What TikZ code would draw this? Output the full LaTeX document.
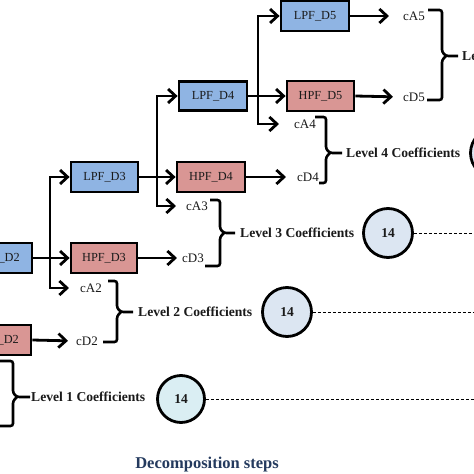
\documentclass[tikz,border=0pt]{standalone}
\usepackage{fontspec}
\setmainfont{Liberation Serif}
\usetikzlibrary{arrows.meta}
\definecolor{lpf}{HTML}{8FB4E3}
\definecolor{hpf}{HTML}{D99694}
\definecolor{circA}{HTML}{DCE6F2}
\definecolor{circB}{HTML}{DAEEF3}
\definecolor{navy}{HTML}{243A5E}
\definecolor{ink}{HTML}{1A1A1A}
\begin{document}
\begin{tikzpicture}[x=1pt,y=-1pt,
  filt/.style={draw=black, line width=2.8pt, minimum width=68pt, minimum height=30pt, inner sep=0pt, text=ink, font=\fontsize{12.3}{14}\selectfont},
  lpfbox/.style={filt, fill=lpf},
  hpfbox/.style={filt, fill=hpf},
  coef/.style={inner sep=1pt, text=ink, font=\fontsize{13}{14}\selectfont},
  conn/.style={line width=2.8pt, -{Straight Barb[length=7.5pt,width=14pt]}},
  brace/.style={line width=2.6pt, rounded corners=2.5pt},
  lvl/.style={anchor=west, inner sep=0pt, text=ink, font=\bfseries\fontsize{13.6}{15}\selectfont},
  circ/.style={circle, draw=black, line width=2.8pt, minimum size=48pt, inner sep=0pt, text=ink, font=\bfseries\fontsize{13.5}{15}\selectfont},
  dline/.style={line width=1pt, dash pattern=on 3pt off 2pt}]
\useasboundingbox (0,0) rectangle (474,474);
\fill[white] (0,0) rectangle (474,474);
\clip (0,0) rectangle (474,474);

% filter boxes
\node[lpfbox] (l5) at (315,16) {LPF\_D5};
\node[hpfbox, minimum width=67pt] (h5) at (320.5,96) {HPF\_D5};
\node[lpfbox, minimum height=29pt] (l4) at (213,96) {LPF\_D4};
\node[hpfbox] (h4) at (211,177) {HPF\_D4};
\node[lpfbox, minimum width=67pt] (l3) at (104.5,177) {LPF\_D3};
\node[hpfbox, minimum width=66pt] (h3) at (104,258) {HPF\_D3};
\node[lpfbox, minimum width=67pt] (l2) at (-1.5,258) {LPF\_D2};
\node[hpfbox] (h2) at (-3,340) {HPF\_D2};

% coefficient labels
\node[coef] (cA5) at (414,16) {cA5};
\node[coef] (cD5) at (414,97) {cD5};
\node[coef] (cA4) at (305,124) {cA4};
\node[coef] (cD4) at (308,177) {cD4};
\node[coef] (cA3) at (197,206) {cA3};
\node[coef] (cD3) at (193,258) {cD3};
\node[coef] (cA2) at (91,288) {cA2};
\node[coef] (cD2) at (87,341) {cD2};

% split points
\coordinate (s2) at (50,258);
\coordinate (s3) at (157,177);
\coordinate (s4) at (258,96);

% connectors
\draw[conn] (l2.east) -- (h3.west);
\draw[conn] (s2) |- (l3.west);
\draw[conn, shorten >=10pt] (s2) |- (cA2.west);
\draw[conn, shorten >=7pt] (h2.east) -- (cD2.west);

\draw[conn] (l3.east) -- (h4.west);
\draw[conn] (s3) |- (l4.west);
\draw[conn, shorten >=9pt] (s3) |- (cA3.west);
\draw[conn, shorten >=4pt] (h3.east) -- (cD3.west);

\draw[conn] (l4.east) -- (h5.west);
\draw[conn] (s4) |- (l5.west);
\draw[conn, shorten >=14pt] (s4) |- (cA4.west);
\draw[conn, shorten >=10pt] (h4.east) -- (cD4.west);

\draw[conn, shorten >=13pt] (l5.east) -- (cA5.west);
\draw[conn, shorten >=9pt] (h5.east) -- (cD5.west);

% braces
\foreach \xa/\xv/\yt/\ym/\yb/\xb/\xe in
  {428/442/10/56/100/427/458, 315/326/117/153/183/319/342,
   210/220/200/233/266/205/235, 108/117/281/312/342/103/133,
   -2/13/361/397/426/-2/30}
{
  \draw[brace] (\xa,\yt) -- (\xv,\yt) -- (\xv,\ym-4) -- (\xv+4,\ym) -- (\xe,\ym);
  \draw[brace] (\xv+4,\ym) -- (\xv,\ym+4) -- (\xv,\yb) -- (\xb,\yb);
}

% level texts
\node[lvl] (t5) at (462,56) {Level 5 Coefficients};
\node[lvl] (t4) at (346,153) {Level 4 Coefficients};
\node[lvl] (t3) at (240,233) {Level 3 Coefficients};
\node[lvl] (t2) at (138,312) {Level 2 Coefficients};
\node[lvl] (t1) at (31,397) {Level 1 Coefficients};

% circles
\node[circ, fill=circA, minimum size=49pt] (k4) at (495,153) {};
\node[circ, fill=circA, minimum size=49pt] (k3) at (388,233) {14};
\node[circ, fill=circA, minimum size=49pt] (k2) at (287,312) {14};
\node[circ, fill=circB, minimum size=47pt] (k1) at (181,399) {14};

% dashed guides
\coordinate (e3) at (474,233);
\coordinate (e2) at (474,312);
\coordinate (e1) at (474,399);
\draw[dline] (k3.east) -- (e3);
\draw[dline] (k2.east) -- (e2);
\draw[dline] (k1.east) -- (e1);

\node[text=navy, font=\bfseries\fontsize{16.5}{18}\selectfont] (ds) at (207,465) {Decomposition steps};
\end{tikzpicture}
\end{document}
